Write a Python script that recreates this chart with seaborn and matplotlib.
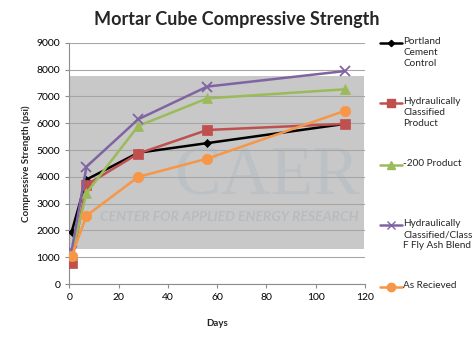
import matplotlib
matplotlib.use("Agg")
import matplotlib.pyplot as plt
import seaborn as sns
import pandas as pd
from matplotlib.lines import Line2D

days = [1, 7, 28, 56, 112]
portland = [1950, 3900, 4900, 5260, 5980]
hydro = [800, 3700, 4870, 5750, 5980]
minus200 = [1100, 3400, 5900, 6930, 7270]
hc_flyash = [1250, 4380, 6150, 7370, 7950]
as_recieved = [1050, 2550, 4000, 4680, 6470]

series_names = ["Portland\nCement\nControl", "Hydraulically\nClassified\nProduct",
                "-200 Product", "Hydraulically\nClassified/Class\nF Fly Ash Blend",
                "As Recieved"]
series_vals = [portland, hydro, minus200, hc_flyash, as_recieved]
colors = ["#000000", "#C0504D", "#9BBB59", "#8064A2", "#F79646"]
markers = ["D", "s", "^", "x", "o"]
msizes = [4, 7, 7, 7, 7.5]

sns.set_theme(style="white")
plt.rcParams['font.family'] = ['Lato', 'DejaVu Sans']

fig = plt.figure(figsize=(4.74, 3.46), dpi=100)
ax = fig.add_axes([0.146, 0.179, 0.624, 0.697])

ax.axhspan(1300, 7750, xmin=0, xmax=0.995, color="#c8c8c8", zorder=0, lw=0)
ax.text(80, 3350, "CAER", fontsize=50, family="Liberation Serif", color="#bcc1c6",
        ha="center", va="baseline", zorder=0.5)
ax.text(65, 2500, "CENTER FOR APPLIED ENERGY RESEARCH", fontsize=10, style="italic",
        weight="bold", color="#b9bcbf", ha="center", va="center", zorder=0.5)

ax.set_yticks(range(0, 10000, 1000))
ax.set_xticks(range(0, 140, 20))
ax.yaxis.grid(True, color="#a6a6a6", lw=0.8, zorder=1)
ax.set_axisbelow(False)

handles = []
for name, vals, c, m, ms in zip(series_names, series_vals, colors, markers, msizes):
    df = pd.DataFrame({"Days": days, "val": vals})
    sns.lineplot(data=df, x="Days", y="val", ax=ax, color=c, lw=1.8, marker=m,
                 markersize=ms, markeredgecolor=c, markeredgewidth=1.3 if m == "x" else 0.5,
                 zorder=3)
    handles.append(Line2D([], [], color=c, lw=1.8, marker=m, markersize=ms * 0.8,
                          markeredgecolor=c))

ax.set_xlim(0, 120)
ax.set_ylim(0, 9000)
for s in ["top", "right"]:
    ax.spines[s].set_visible(False)
for s in ["left", "bottom"]:
    ax.spines[s].set_color("#8c8c8c")
    ax.spines[s].set_linewidth(0.8)
ax.tick_params(axis="both", labelsize=7.5, colors="#000000", length=3, width=0.8,
               direction="out", bottom=True, left=True, color="#8c8c8c")
ax.set_xlabel("Days", fontsize=7, weight="bold", labelpad=12)
ax.set_ylabel("Compressive Strength (psi)", fontsize=7, weight="bold", labelpad=4)
fig.text(0.5, 0.945, "Mortar Cube Compressive Strength", ha="center", va="center",
         fontsize=13, weight="bold")

ypos = [43, 103, 165, 225, 287]
for h, name, y in zip(handles, series_names, ypos):
    yf = 1 - y / 346
    fig.add_artist(Line2D([380 / 474, 402 / 474], [yf, yf], color=h.get_color(), lw=1.8,
                          transform=fig.transFigure))
    fig.add_artist(Line2D([391 / 474], [yf], color=h.get_color(), marker=h.get_marker(),
                          markersize=h.get_markersize(), markeredgecolor=h.get_color(),
                          transform=fig.transFigure))
    fig.text(403 / 474, yf + 6 / 346, name, ha="left", va="top", fontsize=7.2,
             linespacing=1.3)

fig.savefig("out.png", dpi=100)
